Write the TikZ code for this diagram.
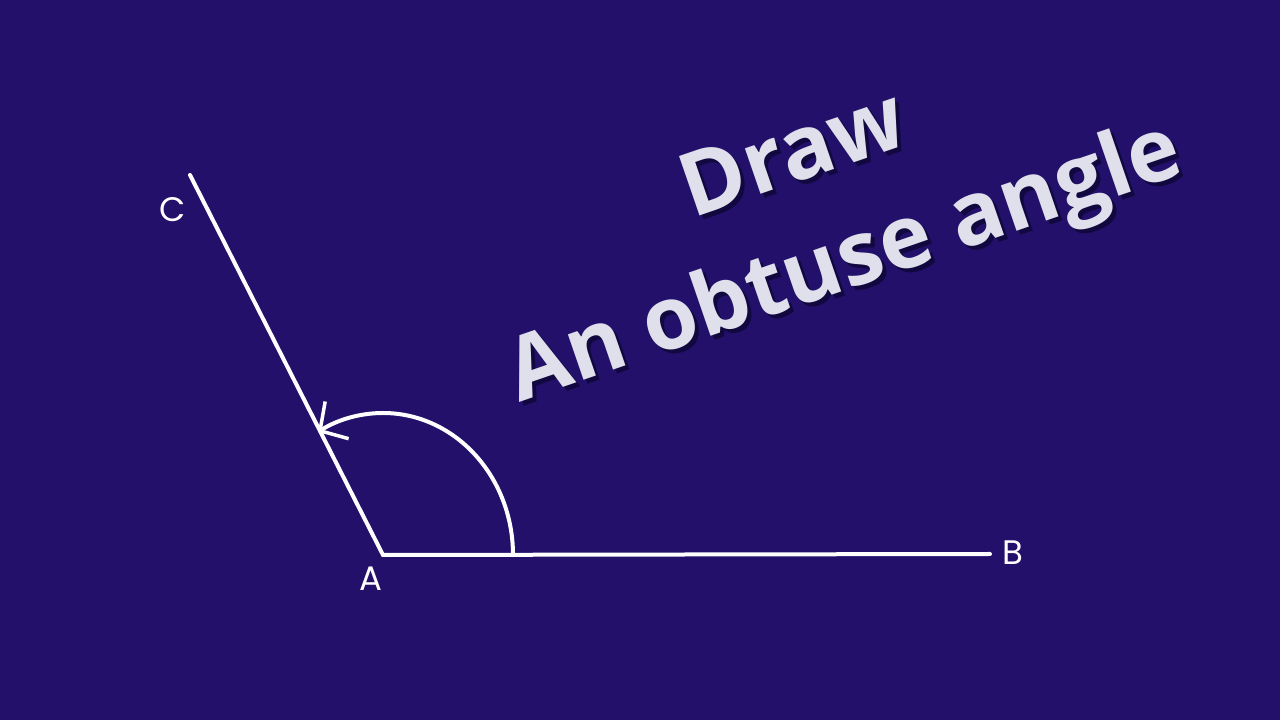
\documentclass[tikz,border=0pt]{standalone}
\usepackage{fontspec}
\setmainfont{Poppins}
\newfontfamily\titlefont{Open Sans}
\usetikzlibrary{arrows.meta}
\definecolor{bg}{HTML}{23106A}
\definecolor{chalk}{HTML}{E0E0EC}
\definecolor{shade}{HTML}{0E0636}
\tikzset{
  ray/.style={white, line width=4pt, line cap=round},
  arcline/.style={white, line width=4pt, -{Straight Barb[length=20pt,width=44pt,line width=3.5pt]}},
  ptlabel/.style={white, font=\fontsize{34}{40}\selectfont, inner sep=0pt},
  titletext/.style={text=chalk, font=\titlefont\bfseries\fontsize{88}{100}\selectfont, rotate=19, inner sep=0pt},
  titleshadow/.style={text=shade, font=\titlefont\bfseries\fontsize{88}{100}\selectfont, rotate=19, inner sep=0pt, opacity=0.8}
}
\begin{document}
\begin{tikzpicture}[x=1pt,y=1pt]
\path[fill=bg, use as bounding box] (0,0) rectangle (1280,720);
\coordinate (A) at (383,165);
\coordinate (B) at (990,166);
\coordinate (C) at (190,545);
\coordinate (S) at (513,165);
\draw[ray] (C) -- (A) -- (B);
\draw[arcline] (S) arc[start angle=0, end angle=120, x radius=130, y radius=142];
\node[ptlabel] (la) at (371,141) {A};
\node[ptlabel] (lb) at (1013,167) {B};
\node[ptlabel] (lc) at (173,510) {C};
\node[titleshadow] (d1s) at (796,565) {Draw};
\node[titletext] (d1) at (792,569) {Draw};
\node[titleshadow] (d2s) at (850,450) {An obtuse angle};
\node[titletext] (d2) at (846,454) {An obtuse angle};
\end{tikzpicture}
\end{document}
